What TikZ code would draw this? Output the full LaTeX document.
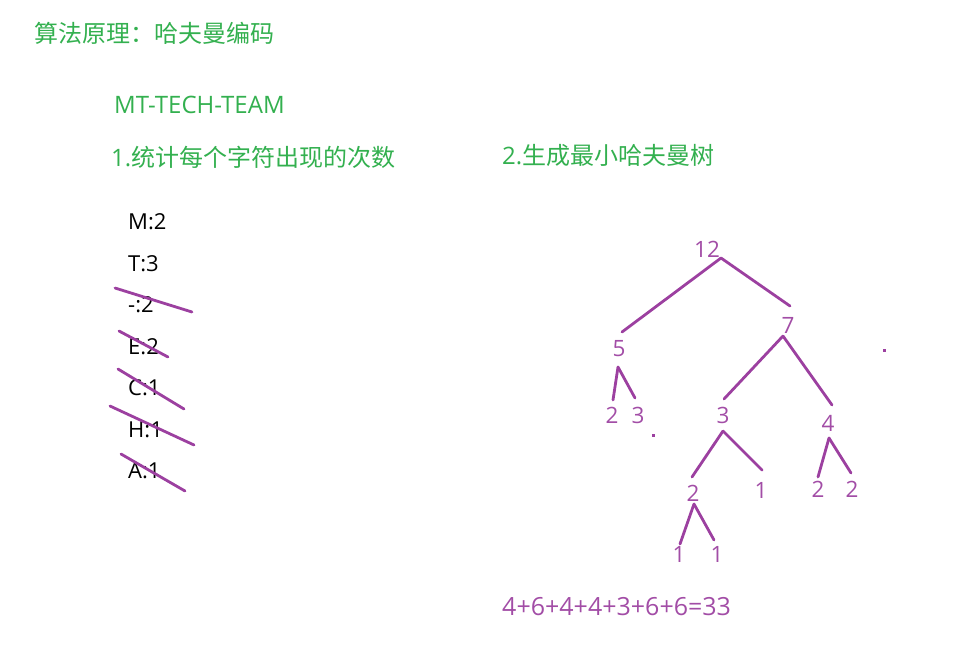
\documentclass[tikz,border=0pt]{standalone}
\usepackage{fontspec}
\setmainfont{Open Sans}
\newfontfamily\cjk{Noto Sans CJK SC}
\definecolor{grn}{HTML}{33B04F}
\definecolor{pline}{HTML}{9C40A0}
\definecolor{ptext}{HTML}{A24DA6}
\begin{document}
\begin{tikzpicture}[x=1pt,y=-1pt,
  greentext/.style={text=grn,font=\fontsize{24}{28}\selectfont,inner sep=0pt,anchor=west},
  item/.style={text=black,font=\fontsize{22}{26}\selectfont,inner sep=0pt,anchor=west},
  num/.style={text=ptext,font=\fontsize{22.5}{26}\selectfont,inner sep=0pt},
  edgeline/.style={draw=pline,line width=2.8pt,line cap=round},
  dotmark/.style={fill=pline}]
\useasboundingbox (0,0) rectangle (979,670);
% headings
\node[greentext] (title) at (34,33) {\cjk 算法原理：哈夫曼编码};
\node[greentext] (team) at (114,105) {MT-TECH-TEAM};
\node[greentext] (step1) at (111,157) {1.{\cjk 统计每个字符出现的次数}};
\node[greentext] (step2) at (502,155) {2.{\cjk 生成最小哈夫曼树}};
% counts
\node[item] (m) at (128,222) {M:2};
\node[item] (t) at (128,264) {T:3};
\node[item] (dash) at (128,305) {-:2};
\node[item] (e) at (128,347) {E:2};
\node[item] (c) at (128,388) {C:1};
\node[item] (h) at (128,430) {H:1};
\node[item] (a) at (128,471) {A:1};
% strike-outs
\coordinate (s1a) at (115,288); \coordinate (s1b) at (192,312);
\coordinate (s2a) at (119,331); \coordinate (s2b) at (168,357);
\coordinate (s3a) at (118,369); \coordinate (s3b) at (184,409);
\coordinate (s4a) at (110,406); \coordinate (s4b) at (194,445);
\coordinate (s5a) at (121,454); \coordinate (s5b) at (185,491);
\draw[edgeline] (s1a) -- (s1b);
\draw[edgeline] (s2a) -- (s2b);
\draw[edgeline] (s3a) -- (s3b);
\draw[edgeline] (s4a) -- (s4b);
\draw[edgeline] (s5a) -- (s5b);
% tree nodes
\node[num] (n12) at (707,249) {12};
\node[num] (n7) at (788,325) {7};
\node[num] (n5) at (619,349) {5};
\node[num] (n2a) at (612,415) {2};
\node[num] (n3a) at (638,415) {3};
\node[num] (n3) at (723,415) {3};
\node[num] (n4) at (828,423) {4};
\node[num] (n2b) at (693,493) {2};
\node[num] (n1a) at (761,490) {1};
\node[num] (n2c) at (818,489) {2};
\node[num] (n2d) at (852,489) {2};
\node[num] (n1b) at (679,554) {1};
\node[num] (n1c) at (717,554) {1};
% edge end points
\coordinate (c12) at (721,258);
\coordinate (c5top) at (622,332);
\coordinate (c7top) at (790,306);
\coordinate (c5) at (618,367);
\coordinate (c2a) at (613,400);
\coordinate (c3a) at (635,398);
\coordinate (c7) at (783,336);
\coordinate (c3top) at (724,399);
\coordinate (c4top) at (832,405);
\coordinate (c3) at (723,431);
\coordinate (c2btop) at (692,477);
\coordinate (c1atop) at (762,470);
\coordinate (c4) at (829,438);
\coordinate (c2ctop) at (818,477);
\coordinate (c2dtop) at (851,473);
\coordinate (c2b) at (694,504);
\coordinate (c1btop) at (680,544);
\coordinate (c1ctop) at (714,540);
\draw[edgeline] (c12) -- (c5top);
\draw[edgeline] (c12) -- (c7top);
\draw[edgeline] (c5) -- (c2a);
\draw[edgeline] (c5) -- (c3a);
\draw[edgeline] (c7) -- (c3top);
\draw[edgeline] (c7) -- (c4top);
\draw[edgeline] (c3) -- (c2btop);
\draw[edgeline] (c3) -- (c1atop);
\draw[edgeline] (c4) -- (c2ctop);
\draw[edgeline] (c4) -- (c2dtop);
\draw[edgeline] (c2b) -- (c1btop);
\draw[edgeline] (c2b) -- (c1ctop);
% stray dots
\fill[dotmark] (651.5,433.5) rectangle ++(3,3);
\fill[dotmark] (882.5,348.5) rectangle ++(3,3);
% total
\node[num,anchor=west,font=\fontsize{25}{29}\selectfont] (total) at (502,607) {4+6+4+4+3+6+6=33};
\end{tikzpicture}
\end{document}
